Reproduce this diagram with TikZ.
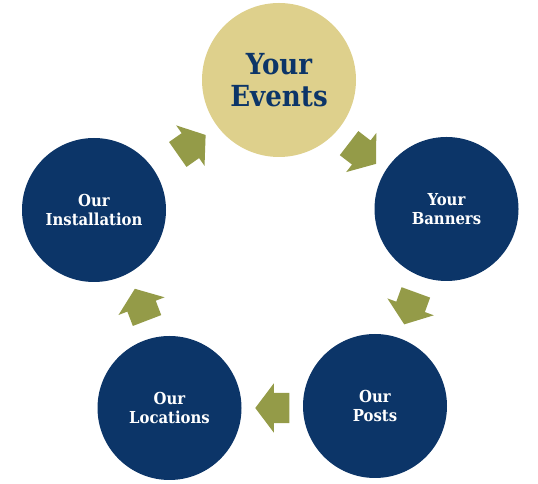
\documentclass[tikz,border=0pt]{standalone}
\usepackage{fontspec}
\setmainfont{DejaVu Serif Condensed}
\usetikzlibrary{shapes.arrows}
\definecolor{navy}{RGB}{12,53,104}
\definecolor{sand}{RGB}{222,208,140}
\definecolor{olive}{RGB}{148,155,72}

\begin{document}
\begin{tikzpicture}[x=1pt,y=1pt,
  stage/.style={circle,fill=navy,minimum size=144pt,inner sep=0pt,align=center,text=white,font=\bfseries\fontsize{16.5}{18.5}\selectfont},
  flow/.style={single arrow,fill=olive,minimum height=34pt,minimum width=48pt,inner xsep=0pt,inner ysep=15pt,single arrow head extend=9.5pt,single arrow tip angle=106}]
\useasboundingbox (0,0) rectangle (538,484);
% the five stages
\node[stage,fill=sand,text=navy,minimum size=154pt,font=\bfseries\fontsize{29}{32}\selectfont] (events) at (279,404) {Your\\Events};
\node[stage] (banners) at (446.5,275) {Your\\Banners};
\node[stage] (posts) at (375,78) {Our\\Posts};
\node[stage] (locations) at (169.5,76) {Our\\Locations};
\node[stage] (install) at (94,274) {Our\\Installation};
% block arrows between them
\node[flow,rotate=35] (toevents) at (187,336) {};
\node[flow,rotate=-37.6] (tobanners) at (358,334) {};
\node[flow,rotate=-110] (toposts) at (412,181) {};
\node[flow,rotate=180] (tolocations) at (278,76) {};
\node[flow,rotate=111] (toinstall) at (143,174) {};
\end{tikzpicture}
\end{document}
